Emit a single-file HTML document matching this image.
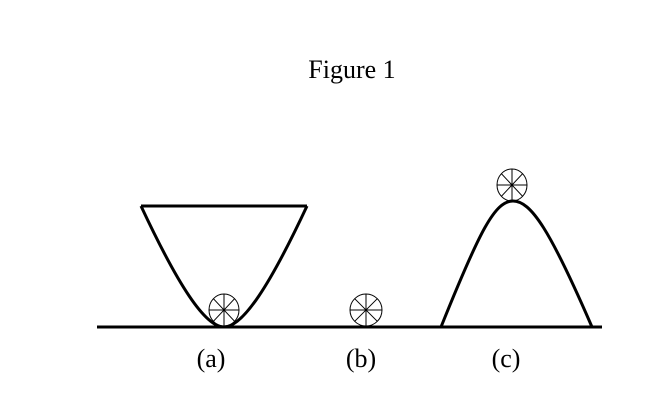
<!DOCTYPE html>
<html><head><style>
html,body{margin:0;padding:0;background:#fff;}
svg{display:block;}
text{font-family:"Liberation Serif",serif;font-size:26px;fill:#000;}
</style></head><body>
<svg width="657" height="412" viewBox="0 0 657 412" xmlns="http://www.w3.org/2000/svg">
<text x="352" y="78" text-anchor="middle">Figure 1</text>
<line x1="97" y1="327" x2="602" y2="327" stroke="#000" stroke-width="3"/>
<line x1="141" y1="206" x2="307" y2="206" stroke="#000" stroke-width="3"/>
<path d="M141,206 C178,285 205,327 224,327 C243,327 270,285 307,206" fill="none" stroke="#000" stroke-width="3"/>
<path d="M441,327 C480,230 495,201 513,201 C531,201 550,230 592,327" fill="none" stroke="#000" stroke-width="3"/>
<g stroke="#000" stroke-width="1" fill="none">
<g transform="translate(224,310)"><ellipse rx="15" ry="16"/><line x1="-15" y1="0" x2="15" y2="0"/><line x1="0" y1="-16" x2="0" y2="16"/><line x1="-10.6" y1="-11.3" x2="10.6" y2="11.3"/><line x1="-10.6" y1="11.3" x2="10.6" y2="-11.3"/></g>
<g transform="translate(366,310)"><ellipse rx="16" ry="16"/><line x1="-16" y1="0" x2="16" y2="0"/><line x1="0" y1="-16" x2="0" y2="16"/><line x1="-11.3" y1="-11.3" x2="11.3" y2="11.3"/><line x1="-11.3" y1="11.3" x2="11.3" y2="-11.3"/></g>
<g transform="translate(512,185)"><ellipse rx="15" ry="16"/><line x1="-15" y1="0" x2="15" y2="0"/><line x1="0" y1="-16" x2="0" y2="16"/><line x1="-10.6" y1="-11.3" x2="10.6" y2="11.3"/><line x1="-10.6" y1="11.3" x2="10.6" y2="-11.3"/></g>
</g>
<text x="211" y="367" text-anchor="middle">(a)</text>
<text x="361" y="367" text-anchor="middle">(b)</text>
<text x="506" y="367" text-anchor="middle">(c)</text>
</svg>
</body></html>
